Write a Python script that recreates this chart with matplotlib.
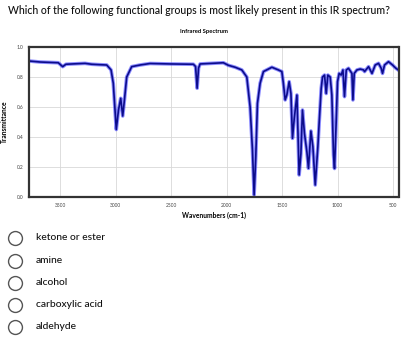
import matplotlib
matplotlib.use('Agg')
import matplotlib.pyplot as plt

# spectrum (wavenumber, transmittance)
wavenumber = [3787, 3683, 3518, 3478, 3449, 3277, 3217, 3142, 3081, 3042,
              3022, 2995, 2975, 2955, 2937, 2921, 2901, 2856, 2781, 2690,
              2510, 2300, 2280, 2266, 2253, 2239, 2029, 1984, 1923, 1863,
              1818, 1788, 1767, 1752, 1737, 1722, 1698, 1668, 1592, 1533,
              1502, 1488, 1472, 1457, 1436, 1420, 1406, 1390, 1366, 1346,
              1330, 1316, 1298, 1276, 1262, 1240, 1222, 1201, 1177, 1165,
              1147, 1135, 1117, 1102, 1087, 1066, 1051, 1036, 1027, 1012,
              1000, 985, 967, 951, 937, 921, 901, 870, 861, 849,
              825, 795, 765, 756, 720, 689, 660, 630, 606, 594,
              576, 540, 504, 473, 452]
transmittance = [0.907, 0.900, 0.895, 0.869, 0.885, 0.891, 0.885, 0.882, 0.880, 0.847,
                 0.758, 0.450, 0.580, 0.658, 0.540, 0.650, 0.800, 0.869, 0.880, 0.890,
                 0.887, 0.885, 0.870, 0.725, 0.860, 0.887, 0.895, 0.878, 0.865, 0.847,
                 0.800, 0.600, 0.313, 0.013, 0.270, 0.624, 0.758, 0.836, 0.865, 0.847,
                 0.836, 0.758, 0.647, 0.680, 0.769, 0.690, 0.391, 0.524, 0.680, 0.147,
                 0.290, 0.580, 0.424, 0.300, 0.191, 0.440, 0.336, 0.080, 0.336, 0.500,
                 0.725, 0.800, 0.813, 0.690, 0.813, 0.800, 0.680, 0.280, 0.190, 0.500,
                 0.769, 0.824, 0.813, 0.847, 0.669, 0.847, 0.858, 0.824, 0.647, 0.824,
                 0.847, 0.853, 0.847, 0.836, 0.869, 0.824, 0.880, 0.891, 0.858, 0.824,
                 0.880, 0.902, 0.880, 0.858, 0.847]

x_ticks = [3500, 3000, 2500, 2000, 1500, 1000, 500]
y_ticks = [0.0, 0.2, 0.4, 0.6, 0.8, 1.0]

question = "Which of the following functional groups is most likely present in this IR spectrum?"
options = ["ketone or ester", "amine", "alcohol", "carboxylic acid", "aldehyde"]

plt.rcParams['font.family'] = ['Lato', 'DejaVu Sans']

fig = plt.figure(figsize=(4.07, 3.39), dpi=100)
ax = fig.add_axes([29/407, 1 - 197/339, (398.5 - 29)/407, (197 - 47)/339])

ax.plot(wavenumber, transmittance, color='#2f2fff', lw=2.6, alpha=0.55)
ax.plot(wavenumber, transmittance, color='#0c0c8c', lw=1.2)
ax.set_xlim(3782, 450)
ax.set_ylim(0, 1)
ax.set_xticks(x_ticks)
ax.set_yticks(y_ticks)
ax.set_yticklabels([f'{v:.1f}' for v in y_ticks])
ax.tick_params(labelsize=3.5, length=0, pad=4, colors='#444444')
ax.grid(color='#d8d8d8', lw=0.6)
for s in ax.spines.values():
    s.set_color('#333333')
    s.set_linewidth(1.6)
ax.set_xlabel('Wavenumbers (cm-1)', fontsize=4.8, fontweight='bold', labelpad=3)
ax.set_ylabel('Transmittance', fontsize=4.8, fontweight='bold', labelpad=6)

fig.text(0.5, 1 - 32/339, 'Infrared Spectrum', fontsize=4.2, fontweight='bold',
         ha='center', va='center')
fig.text(8/407, 1 - 10/339, question, fontsize=7.6, ha='left', va='center',
         color='#111111', fontweight='medium')

# answer choices drawn in pixel coordinates
ov = fig.add_axes([0, 0, 1, 1])
ov.set_xlim(0, 407)
ov.set_ylim(339, 0)
ov.axis('off')
row_y = [238, 260.5, 282.5, 304.5, 326.5]
for yy, txt in zip(row_y, options):
    ov.plot(14.7, yy, 'o', ms=10, mfc='white', mec='#555555', mew=1.0)
    ov.text(36, yy, txt, fontsize=7.4, va='center', ha='left', color='#111111',
            fontweight='medium')

fig.savefig('out.png', dpi=100)
